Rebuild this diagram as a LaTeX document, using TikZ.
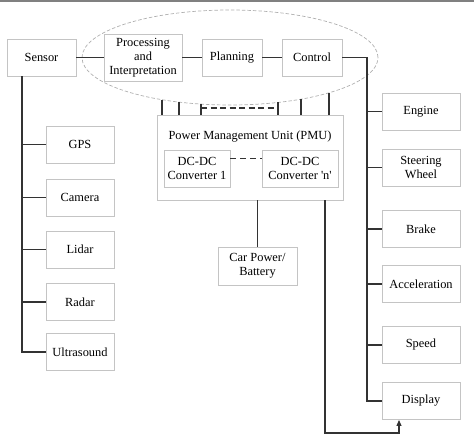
\documentclass[tikz,border=0pt]{standalone}
\usepackage{fontspec}
\setmainfont{Liberation Serif}
\newfontfamily\qf{Liberation Serif}
\usetikzlibrary{arrows.meta,calc,shapes.geometric}
\tikzset{
  blk/.style={draw=boxgray, line width=0.9pt, inner sep=0pt, align=center,
    font=\fontsize{12.4}{14}\selectfont, text=black},
  conn/.style={draw=linegray, line width=1.1pt},
}
\definecolor{boxgray}{HTML}{C4C4C4}
\definecolor{linegray}{HTML}{333333}
\definecolor{ellgray}{HTML}{AFAFAF}
\definecolor{bargray}{HTML}{808080}
\begin{document}
\begin{tikzpicture}[x=1pt,y=-1pt]
\useasboundingbox (0,0) rectangle (474,446);
\fill[bargray] (0,0) rectangle (474,2.5);
% ellipse
\node[draw=ellgray, dash pattern=on 3.5pt off 2pt, line width=0.7pt, ellipse, minimum width=296pt, minimum height=95pt, inner sep=0pt] (ell) at (230,57.5) {};
% top row
\node[blk, minimum width=69pt, minimum height=37pt] (sensor) at (41.5,57.5) {Sensor};
\node[blk, minimum width=78pt, minimum height=47pt] (proc) at (143,57.5) {Processing\\and\\Interpretation};
\node[blk, minimum width=60pt, minimum height=37pt] (plan) at (232,57.5) {Planning};
\node[blk, minimum width=60pt, minimum height=37pt] (ctrl) at (312,57.5) {Control};
% left column
\node[blk, minimum width=68pt, minimum height=37pt] (gps) at (80,144.5) {GPS};
\node[blk, minimum width=68pt, minimum height=37pt] (cam) at (80,197.5) {Camera};
\node[blk, minimum width=68pt, minimum height=37pt] (lidar) at (80,249.5) {Lidar};
\node[blk, minimum width=68pt, minimum height=37pt] (radar) at (80,302) {Radar};
\node[blk, minimum width=68pt, minimum height=37pt] (ultra) at (80,352) {Ultrasound};
% right column
\node[blk, minimum width=78pt, minimum height=37pt] (engine) at (421,111.5) {Engine};
\node[blk, minimum width=78pt, minimum height=37pt] (steer) at (421,167.5) {Steering\\Wheel};
\node[blk, minimum width=78pt, minimum height=37pt] (brake) at (421,229) {Brake};
\node[blk, minimum width=78pt, minimum height=37pt] (accel) at (421,284) {Acceleration};
\node[blk, minimum width=78pt, minimum height=37pt] (speed) at (421,345) {Speed};
\node[blk, minimum width=78pt, minimum height=37pt] (disp) at (421,401) {Display};
% PMU
\node[blk, minimum width=186pt, minimum height=85pt] (pmu) at (250,157.5) {};
\node[font=\fontsize{12.4}{14}\selectfont, inner sep=0pt] (pmut) at (250,137) {Power Management Unit (PMU)};
\node[blk, minimum width=66pt, minimum height=37pt] (dc1) at (197,168.5) {DC-DC\\Converter 1};
\node[blk, minimum width=76pt, minimum height=37pt] (dcn) at (300,168.5) {DC-DC\\Converter {\qf'}n{\qf'}};
\node[blk, minimum width=79pt, minimum height=38pt] (car) at (257.5,266) {Car Power/\\Battery};
% spines
\coordinate (spL) at (22,0);
\coordinate (spR) at (367,0);
\coordinate (upx) at (325,0);
% top row connectors
\draw[conn] (sensor.east) -- (proc.west);
\draw[conn] (proc.east) -- (plan.west);
\draw[conn] (plan.east) -- (ctrl.west);
% left spine
\draw[conn] (sensor.south -| spL) -- (spL |- ultra.west) -- (ultra.west);
\foreach \n in {gps,cam,lidar,radar} \draw[conn] (spL |- \n.west) -- (\n.west);
% right spine
\draw[conn] (ctrl.east) -| (spR |- disp.west) -- (disp.west);
\foreach \n in {engine,steer,brake,accel,speed} \draw[conn] (spR |- \n.west) -- (\n.west);
% ellipse to PMU
\foreach \x/\y in {162/99.7,179/102.1,201/104.1,278/102.4,301/99.2,329/92.8}
  \draw[conn] (\x,\y) -- (\x,0 |- pmu.north);
\draw[conn, dash pattern=on 6pt off 3.5pt] (201,108) -- (278,108);
% converters
\draw[conn, dash pattern=on 6pt off 4pt] ($(dc1.east)+(0,-10)$) -- ($(dcn.west)+(0,-10)$);
% battery
\draw[conn] (car.north |- pmu.south) -- (car.north);
% to display
\coordinate (bend) at (325,433);
\coordinate (dtip) at (399,0);
\draw[conn, -{Triangle[length=6pt,width=5pt]}] (upx |- pmu.south) -- (bend) -| (dtip |- disp.south);
\end{tikzpicture}
\end{document}
